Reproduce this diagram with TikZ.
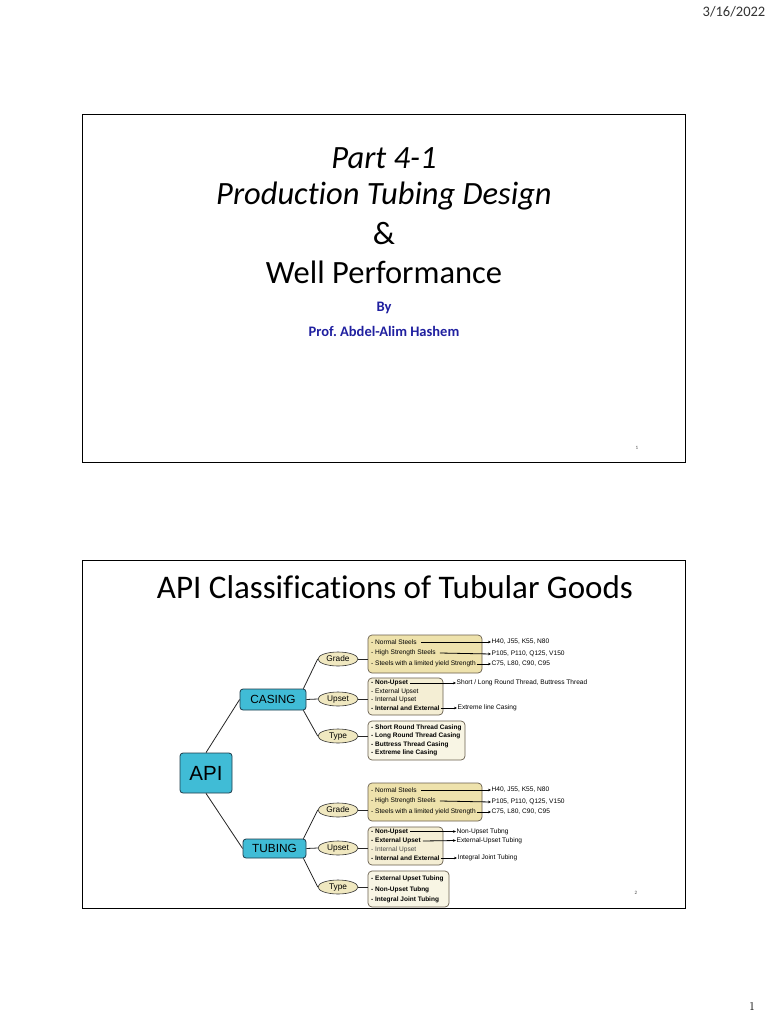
\documentclass[tikz,border=0pt]{standalone}
\usepackage{fontspec}
\newfontfamily\calf[Ligatures=NoCommon]{Carlito}
\newfontfamily\arialf{Liberation Sans}
\usetikzlibrary{shapes.geometric,arrows.meta}
\definecolor{cyanf}{RGB}{64,188,214}
\definecolor{cyand}{RGB}{30,60,75}
\definecolor{tanf}{RGB}{238,226,172}
\definecolor{creamf}{RGB}{244,238,212}
\definecolor{lightf}{RGB}{248,245,228}
\definecolor{ovalf}{RGB}{240,232,192}
\definecolor{boxd}{RGB}{105,95,78}
\definecolor{byblue}{RGB}{32,32,160}
\tikzset{
  cyanbox/.style={draw=cyand, fill=cyanf, rounded corners=3pt, line width=0.8pt, inner sep=0pt, font=\arialf},
  oval/.style={ellipse, draw=black!80, fill=ovalf, line width=0.6pt, minimum width=40pt, minimum height=14pt, inner sep=0pt, font=\arialf\fontsize{8.3}{9}\selectfont},
  gbox/.style={rectangle, rounded corners=4pt, draw=boxd, line width=0.7pt, inner sep=0pt},
  item/.style={anchor=west, inner sep=1pt, font=\arialf\fontsize{6.6}{7}\selectfont},
  bitem/.style={item, font=\arialf\bfseries\fontsize{6.5}{7}\selectfont},
  lbl/.style={anchor=west, inner sep=0.5pt, font=\arialf\fontsize{6.6}{7}\selectfont},
  conn/.style={draw=black!85, line width=0.8pt},
  arr/.style={draw=black, line width=0.8pt, -{Stealth[length=3pt,width=2.6pt]}},
  frame/.style={draw=black, line width=1pt},
}
\begin{document}
\begin{tikzpicture}[x=1pt,y=-1pt]
\path[use as bounding box, fill=white] (0,0) rectangle (768,1024);

% page furniture
\node[font=\calf\fontsize{14.5}{16}\selectfont, text=black!80] (date) at (734,12) {3/16/2022};
\node[font=\fontsize{12}{14}\selectfont] (pgnum) at (752,1006) {1};

% ---------- slide 1 ----------
\draw[frame] (82,115) rectangle (685,462);
\node[font=\calf\itshape\fontsize{32.5}{36}\selectfont] (t1) at (384,158) {Part 4-1};
\node[font=\calf\itshape\fontsize{32.5}{36}\selectfont] (t2) at (384,196) {Production Tubing Design};
\node[font=\calf\fontsize{32.5}{36}\selectfont] (t3) at (384,234) {\&};
\node[font=\calf\fontsize{32.5}{36}\selectfont] (t4) at (384,272) {Well Performance};
\node[font=\calf\bfseries\fontsize{14.5}{16}\selectfont, text=byblue] (by) at (384,308) {By};
\node[font=\calf\bfseries\fontsize{14.5}{16}\selectfont, text=byblue] (prof) at (384,331) {Prof.\ Abdel-Alim Hashem};
\node[font=\calf\fontsize{5}{6}\selectfont, text=black!70] (s1n) at (637,448) {1};

% ---------- slide 2 ----------
\draw[frame] (82,560) rectangle (685,908);
\node[font=\calf\fontsize{33}{36}\selectfont] (title2) at (395,587) {API Classifications of Tubular Goods};
\node[font=\calf\fontsize{5}{6}\selectfont, text=black!70] (s2n) at (636,893) {2};

% main nodes
\node[cyanbox, minimum width=52pt, minimum height=40pt, font=\arialf\fontsize{20.5}{22}\selectfont] (api) at (206,773) {API};
\node[cyanbox, minimum width=66pt, minimum height=21pt, font=\arialf\fontsize{11.8}{13}\selectfont] (casing) at (273,699.5) {CASING};
\node[cyanbox, minimum width=63pt, minimum height=19pt, font=\arialf\fontsize{11.8}{13}\selectfont] (tubing) at (274.5,848.5) {TUBING};

\node[oval] (cg) at (338,659) {Grade};
\node[oval] (cu) at (338,699) {Upset};
\node[oval] (ct) at (338,736) {Type};
\node[oval] (tg) at (338,810) {Grade};
\node[oval] (tu) at (338,848) {Upset};
\node[oval] (tt) at (338,887) {Type};

\draw[conn] (api.north) -- (casing.west);
\draw[conn] (api.south) -- (tubing.west);
\draw[conn] ([xshift=-3pt]casing.north east) -- (cg.west);
\draw[conn] (casing.east) -- (cu.west);
\draw[conn] ([xshift=-3pt]casing.south east) -- (ct.west);
\draw[conn] ([xshift=-3pt]tubing.north east) -- (tg.west);
\draw[conn] (tubing.east) -- (tu.west);
\draw[conn] ([xshift=-3pt]tubing.south east) -- (tt.west);

% casing grade
\node[gbox, fill=tanf, minimum width=114pt, minimum height=38pt] (cgb) at (425,654) {};
\draw[conn] (cg.east) -- (cg.east -| cgb.west);
\node[item] (cg1) at (370,642) {- Normal Steels};
\node[item] (cg2) at (370,653) {- High Strength Steels};
\node[item] (cg3) at (370,664) {- Steels with a limited yield Strength};
\node[lbl] (cl1) at (491,642) {H40, J55, K55, N80};
\node[lbl] (cl2) at (491,654) {P105, P110, Q125, V150};
\node[lbl] (cl3) at (491,664) {C75, L80, C90, C95};
\draw[arr] ([xshift=3pt]cg1.east) -- (cl1.west);
\draw[arr] ([xshift=3pt]cg2.east) -- (cl2.west);
\draw[arr] (cg3.east) -- (cl3.west);

% casing upset
\node[gbox, fill=creamf, minimum width=75pt, minimum height=37pt] (cub) at (405.5,696.5) {};
\draw[conn] (cu.east) -- (cu.east -| cub.west);
\node[bitem] (cu1) at (370,683) {- Non-Upset};
\node[item] (cu2) at (370,691.5) {- External Upset};
\node[item] (cu3) at (370,700) {- Internal Upset};
\node[bitem] (cu4) at (370,708) {- Internal and External};
\node[lbl] (cul1) at (456,683) {Short / Long Round Thread, Buttress Thread};
\node[lbl] (cul4) at (457,708) {Extreme line Casing};
\draw[arr] ([xshift=1pt]cu1.east) -- (cul1.west);
\draw[arr] (cu4.east) -- (cul4.west);

% casing type
\node[gbox, fill=lightf, minimum width=97pt, minimum height=39pt] (ctb) at (416.5,740.5) {};
\draw[conn] (ct.east) -- (ct.east -| ctb.west);
\node[bitem] (ct1) at (370,727.5) {- Short Round Thread Casing};
\node[bitem] (ct2) at (370,736) {- Long Round Thread Casing};
\node[bitem] (ct3) at (370,744.5) {- Buttress Thread Casing};
\node[bitem] (ct4) at (370,753) {- Extreme line Casing};

% tubing grade
\node[gbox, fill=tanf, minimum width=114pt, minimum height=38pt] (tgb) at (425,802) {};
\draw[conn] (tg.east) -- (tg.east -| tgb.west);
\node[item] (tg1) at (370,790) {- Normal Steels};
\node[item] (tg2) at (370,801) {- High Strength Steels};
\node[item] (tg3) at (370,812) {- Steels with a limited yield Strength};
\node[lbl] (tl1) at (491,790) {H40, J55, K55, N80};
\node[lbl] (tl2) at (491,802) {P105, P110, Q125, V150};
\node[lbl] (tl3) at (491,812) {C75, L80, C90, C95};
\draw[arr] ([xshift=3pt]tg1.east) -- (tl1.west);
\draw[arr] ([xshift=3pt]tg2.east) -- (tl2.west);
\draw[arr] (tg3.east) -- (tl3.west);

% tubing upset
\node[gbox, fill=creamf, minimum width=75pt, minimum height=38pt] (tub) at (405.5,846) {};
\draw[conn] (tu.east) -- (tu.east -| tub.west);
\node[bitem] (tu1) at (370,831.5) {- Non-Upset};
\node[bitem] (tu2) at (370,841) {- External Upset};
\node[item, text=black!70] (tu3) at (370,850) {- Internal Upset};
\node[bitem] (tu4) at (370,858) {- Internal and External};
\node[lbl] (tul1) at (456,831.5) {Non-Upset Tubng};
\node[lbl] (tul2) at (456,840.5) {External-Upset Tubing};
\node[lbl] (tul4) at (457,858) {Integral Joint Tubing};
\draw[arr] ([xshift=1pt]tu1.east) -- (tul1.west);
\draw[arr] ([xshift=1pt]tu2.east) -- (tul2.west);
\draw[arr] (tu4.east) -- (tul4.west);

% tubing type
\node[gbox, fill=lightf, minimum width=81pt, minimum height=36pt] (ttb) at (408.5,889) {};
\draw[conn] (tt.east) -- (tt.east -| ttb.west);
\node[bitem] (tt1) at (370,879) {- External Upset Tubing};
\node[bitem] (tt2) at (370,889.5) {- Non-Upset Tubng};
\node[bitem] (tt3) at (370,900) {- Integral Joint Tubing};

\end{tikzpicture}
\end{document}
